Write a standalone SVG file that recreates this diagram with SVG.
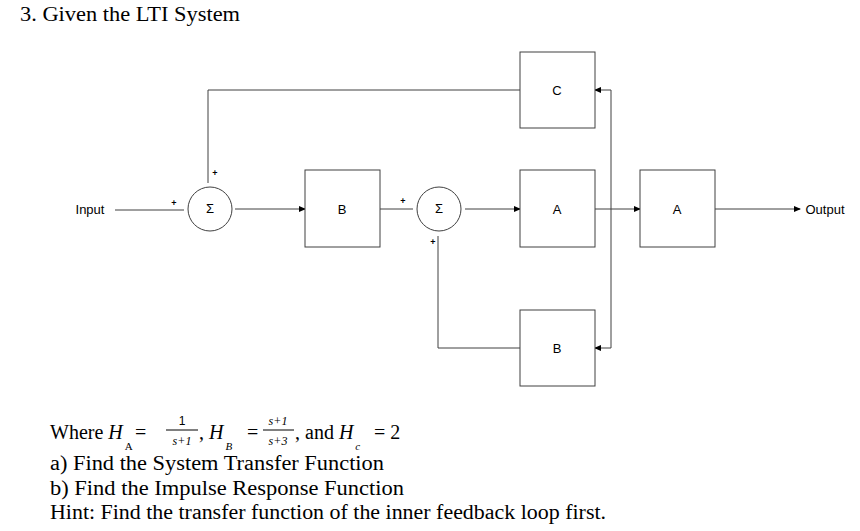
<svg xmlns="http://www.w3.org/2000/svg" width="860" height="531" viewBox="0 0 860 531">
<style>
.b{fill:#fff;stroke:#404040;stroke-width:1}
.l{fill:none;stroke:#404040;stroke-width:1}
.t{font-family:"Liberation Sans",Arial,sans-serif;font-size:13px;fill:#000;text-anchor:middle}
.s{font-family:"Liberation Serif","Times New Roman",serif;font-size:20px;fill:#000}
.p{font-family:"Liberation Sans",sans-serif;font-size:9px;font-weight:bold;fill:#000;text-anchor:middle}
</style>
<defs><marker id="a" markerWidth="7" markerHeight="6" refX="6" refY="3" orient="auto" markerUnits="userSpaceOnUse"><path d="M0,0L7,3L0,6Z" fill="#000"/></marker></defs>
<rect width="860" height="531" fill="#fff"/>
<text class="s" x="20" y="21" textLength="220" lengthAdjust="spacingAndGlyphs">3.  Given the LTI System</text>
<g id="connectors">
<line class="l" x1="115" y1="210" x2="184" y2="210"/>
<line class="l" x1="235" y1="209" x2="305" y2="209" marker-end="url(#a)"/>
<line class="l" x1="380" y1="209" x2="413" y2="209"/>
<line class="l" x1="465" y1="209" x2="520" y2="209" marker-end="url(#a)"/>
<line class="l" x1="595" y1="209" x2="640" y2="209" marker-end="url(#a)"/>
<line class="l" x1="715" y1="209" x2="800" y2="209" marker-end="url(#a)"/>
<polyline class="l" points="611,209 611,90 595,90" marker-end="url(#a)"/>
<polyline class="l" points="611,209 611,348 595,348" marker-end="url(#a)"/>
<polyline class="l" points="520,90 208,90 208,183"/>
<polyline class="l" points="520,348 438,348 438,236"/>
</g>
<text class="t" x="90" y="214">Input</text>
<text class="t" x="825" y="214">Output</text>
<text class="p" x="174" y="206">+</text>
<text class="p" x="215" y="176">+</text>
<text class="p" x="403" y="204">+</text>
<text class="p" x="433" y="245">+</text>
<g id="sum1"><circle class="b" cx="210" cy="209" r="22" stroke-width="1.5"/><text class="t" x="210" y="213" fill="#555">Σ</text></g>
<g id="sum2"><circle class="b" cx="439" cy="209" r="22" stroke-width="1.5"/><text class="t" x="439" y="213" fill="#555">Σ</text></g>
<g id="B1"><rect class="b" x="305" y="170" width="75" height="77"/><text class="t" x="342" y="214">B</text></g>
<g id="A1"><rect class="b" x="520" y="170" width="75" height="77"/><text class="t" x="557" y="214">A</text></g>
<g id="C"><rect class="b" x="520" y="52" width="75" height="76"/><text class="t" x="557" y="95">C</text></g>
<g id="B2"><rect class="b" x="520" y="310" width="75" height="76"/><text class="t" x="557" y="353">B</text></g>
<g id="A2"><rect class="b" x="640" y="170" width="75" height="77"/><text class="t" x="677" y="214">A</text></g>
<g font-family="Liberation Serif,serif" font-size="20">
<text x="50" y="439">Where <tspan font-style="italic">H</tspan><tspan font-size="11" dx="2" dy="11">A</tspan></text>
<text x="135" y="439">=</text>
<text x="182" y="425" font-size="12" font-family="Liberation Sans,sans-serif" text-anchor="middle">1</text>
<line x1="166" y1="430" x2="198" y2="430" stroke="#000"/>
<text x="182" y="445" font-size="12" font-style="italic" text-anchor="middle">s+1</text>
<text x="199" y="439">, <tspan font-style="italic">H</tspan><tspan font-size="11" font-style="italic" dx="2" dy="11">B</tspan></text>
<text x="247" y="439">=</text>
<text x="278" y="425" font-size="12" font-style="italic" text-anchor="middle">s+1</text>
<line x1="263" y1="430" x2="294" y2="430" stroke="#000"/>
<text x="278" y="445" font-size="12" font-style="italic" text-anchor="middle">s+3</text>
<text x="295" y="439">, and <tspan font-style="italic">H</tspan><tspan font-size="11" font-style="italic" dx="2" dy="11">c</tspan></text>
<text x="374" y="439">= 2</text>
<text x="50" y="470" textLength="334" lengthAdjust="spacingAndGlyphs">a)  Find the System Transfer Function</text>
<text x="50" y="495" textLength="354" lengthAdjust="spacingAndGlyphs">b)  Find the Impulse Response Function</text>
<text x="50" y="519" textLength="556" lengthAdjust="spacingAndGlyphs">Hint: Find the transfer function of the inner feedback loop first.</text>
</g>
</svg>
